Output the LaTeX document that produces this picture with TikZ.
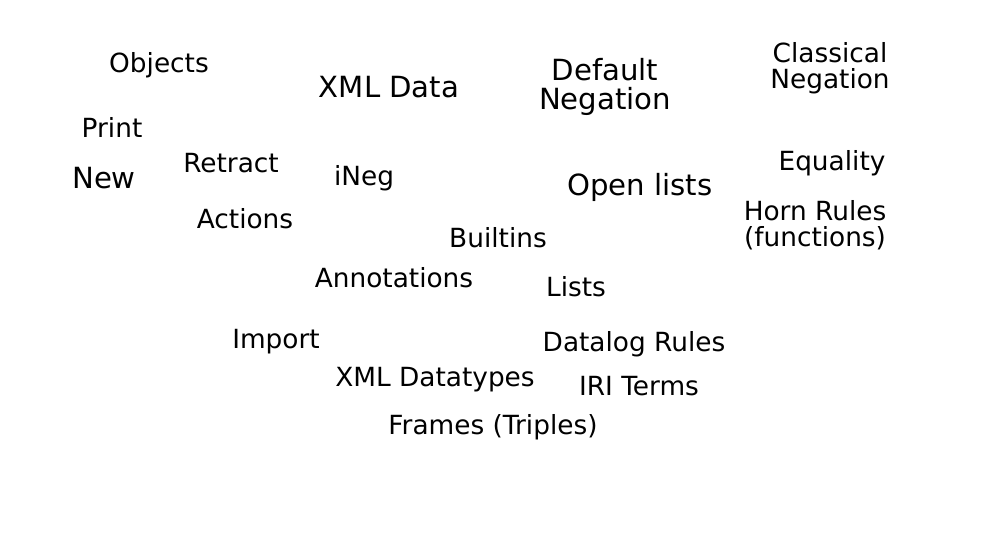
\documentclass[tikz,border=0pt]{standalone}
\usepackage{fontspec}
\setmainfont{DejaVu Sans}
\usepackage{tikz}
\usetikzlibrary{positioning}

\begin{document}
\begin{tikzpicture}[x=0.02cm, y=-0.02cm,
    term/.style={inner sep=0pt, align=center, font=\fontsize{15pt}{15pt}\selectfont},
    bigterm/.style={inner sep=0pt, align=center, font=\fontsize{16.6pt}{16.6pt}\selectfont}]
            \useasboundingbox (0,0) rectangle (1000,548);
            \node[term] (objects) at (159,65) {Objects};
            \node[bigterm] (xmldata) at (389,87) {XML Data};
            \node[bigterm] (defneg) at (605,87) {Default\\Negation};
            \node[term] (classneg) at (830,68) {Classical\\Negation};
            \node[term] (print) at (112,127) {Print};
            \node[bigterm] (new) at (104,178) {New};
            \node[term] (retract) at (231,163) {Retract};
            \node[term] (ineg) at (364,178) {iNeg};
            \node[bigterm] (openlists) at (640,187) {Open lists};
            \node[term] (equality) at (832,163) {Equality};
            \node[term] (horn) at (815,225) {Horn Rules\\(functions)};
            \node[term] (actions) at (245,219) {Actions};
            \node[term] (builtins) at (498,238) {Builtins};
            \node[term] (annot) at (394,278) {Annotations};
            \node[term] (lists) at (576,287) {Lists};
            \node[term] (import) at (276,342) {Import};
            \node[term] (datalog) at (634,344) {Datalog Rules};
            \node[term] (xmltypes) at (435,380) {XML Datatypes};
            \node[term] (iri) at (639,386) {IRI Terms};
            \node[term] (frames) at (493,427) {Frames (Triples)};
        \end{tikzpicture}
\end{document}
